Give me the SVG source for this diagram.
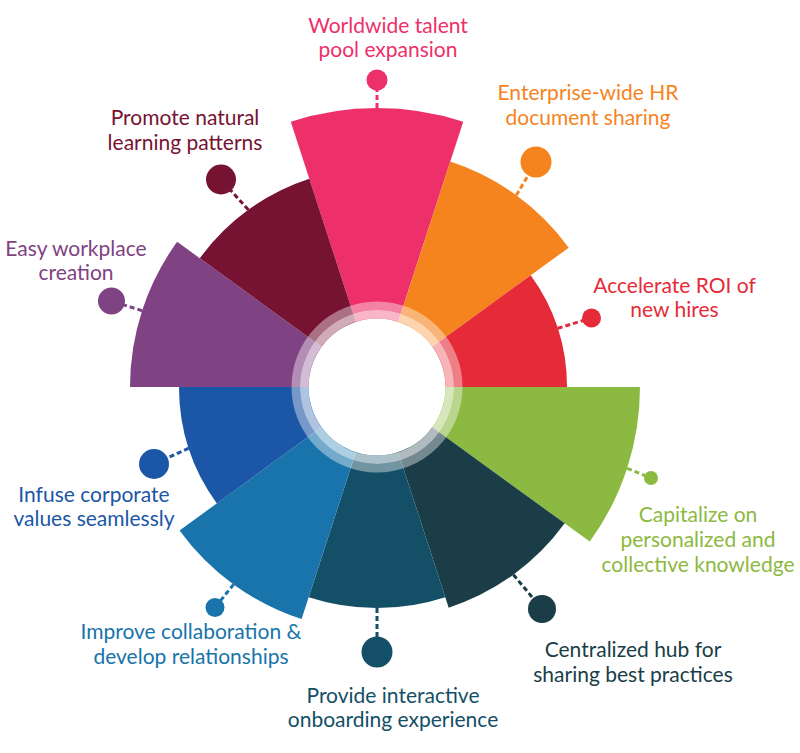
<svg xmlns="http://www.w3.org/2000/svg" width="800" height="753" viewBox="0 0 800 753">
<style>
text{font-family:Lato,"Open Sans","Liberation Sans",sans-serif;font-size:21px;text-anchor:middle}
.dash{fill:none;stroke-width:3;stroke-dasharray:5 3}
.c1{fill:#ED3069}.s1{stroke:#ED3069}
.c2{fill:#F5841F}.s2{stroke:#F5841F}
.c3{fill:#E52B38}.s3{stroke:#E52B38}
.c4{fill:#8CB941}.s4{stroke:#8CB941}
.c5{fill:#1A3D47}.s5{stroke:#1A3D47}
.c6{fill:#134F66}.s6{stroke:#134F66}
.c7{fill:#1874AA}.s7{stroke:#1874AA}
.c8{fill:#1C56A6}.s8{stroke:#1C56A6}
.c9{fill:#7F4283}.s9{stroke:#7F4283}
.c10{fill:#761232}.s10{stroke:#761232}
</style>
<rect width="800" height="753" fill="#fff"/>
<g id="connectors">
<line class="dash s1" x1="377" y1="108" x2="377" y2="80"/>
<line class="dash s2" x1="516.3" y1="195.3" x2="536" y2="162"/>
<line class="dash s3" x1="557.7" y1="328.3" x2="591.5" y2="318"/>
<line class="dash s4" x1="627.1" y1="468.3" x2="651" y2="478"/>
<line class="dash s5" x1="513.4" y1="574.7" x2="542" y2="609"/>
<line class="dash s6" x1="377" y1="608" x2="377" y2="652"/>
<line class="dash s7" x1="233.6" y1="584.4" x2="215" y2="607.5"/>
<line class="dash s8" x1="188.7" y1="448.2" x2="154" y2="464"/>
<line class="dash s9" x1="142.1" y1="310.7" x2="111.5" y2="301"/>
<line class="dash s10" x1="248.3" y1="209.8" x2="221" y2="179.5"/>
</g>
<g id="node-worldwide">
<path class="c1" d="M377,387 L290.78,121.65 A279,279 0 0 1 463.22,121.65 Z"/>
<circle class="c1" cx="377" cy="80" r="10.5"/>
<text class="c1" x="388" y="33">Worldwide talent</text>
<text class="c1" x="388" y="57">pool expansion</text>
</g>
<g id="node-enterprise">
<path class="c2" d="M377,387 L450.24,161.6 A237,237 0 0 1 568.74,247.69 Z"/>
<circle class="c2" cx="536" cy="162" r="15.5"/>
<text class="c2" x="588" y="100">Enterprise-wide HR</text>
<text class="c2" x="588" y="125">document sharing</text>
</g>
<g id="node-accelerate">
<path class="c3" d="M377,387 L530.71,275.32 A190,190 0 0 1 567,387 Z"/>
<circle class="c3" cx="591.5" cy="318" r="9.5"/>
<text class="c3" x="674.5" y="292.5">Accelerate ROI of</text>
<text class="c3" x="674.5" y="316.5">new hires</text>
</g>
<g id="node-capitalize">
<path class="c4" d="M377,387 L640,387 A263,263 0 0 1 589.77,541.59 Z"/>
<circle class="c4" cx="651" cy="478" r="7"/>
<text class="c4" x="698" y="522">Capitalize on</text>
<text class="c4" x="698" y="547">personalized and</text>
<text class="c4" x="698" y="571.5">collective knowledge</text>
</g>
<g id="node-centralized">
<path class="c5" d="M377,387 L564.69,523.37 A232,232 0 0 1 448.69,607.65 Z"/>
<circle class="c5" cx="542" cy="609" r="14"/>
<text class="c5" x="633" y="656.5">Centralized hub for</text>
<text class="c5" x="633" y="681.5">sharing best practices</text>
</g>
<g id="node-provide">
<path class="c6" d="M377,387 L445.29,597.18 A221,221 0 0 1 308.71,597.18 Z"/>
<circle class="c6" cx="377" cy="652" r="15.5"/>
<text class="c6" x="393" y="702.5">Provide interactive</text>
<text class="c6" x="393" y="726.5">onboarding experience</text>
</g>
<g id="node-improve">
<path class="c7" d="M377,387 L301.6,619.06 A244,244 0 0 1 179.6,530.42 Z"/>
<circle class="c7" cx="215" cy="607.5" r="9.5"/>
<text class="c7" x="191" y="639">Improve collaboration &amp;</text>
<text class="c7" x="191" y="664">develop relationships</text>
</g>
<g id="node-infuse">
<path class="c8" d="M377,387 L216.81,503.38 A198,198 0 0 1 179,387 Z"/>
<circle class="c8" cx="154" cy="464" r="15"/>
<text class="c8" x="94" y="501.5">Infuse corporate</text>
<text class="c8" x="94" y="525.5">values seamlessly</text>
</g>
<g id="node-easy">
<path class="c9" d="M377,387 L130,387 A247,247 0 0 1 177.17,241.82 Z"/>
<circle class="c9" cx="111.5" cy="301" r="13.5"/>
<text class="c9" x="76" y="255.5">Easy workplace</text>
<text class="c9" x="76" y="280">creation</text>
</g>
<g id="node-promote">
<path class="c10" d="M377,387 L199.82,258.27 A219,219 0 0 1 309.32,178.72 Z"/>
<circle class="c10" cx="221" cy="179.5" r="15"/>
<text class="c10" x="185" y="125">Promote natural</text>
<text class="c10" x="185" y="150">learning patterns</text>
</g>
<g id="hub">
<circle cx="377" cy="387" r="81.25" fill="none" stroke="#fff" stroke-width="8.5" stroke-opacity="0.4"/>
<circle cx="377" cy="387" r="72.75" fill="none" stroke="#fff" stroke-width="8.5" stroke-opacity="0.65"/>
<circle cx="377" cy="387" r="68.5" fill="#fff"/>
</g>
</svg>
